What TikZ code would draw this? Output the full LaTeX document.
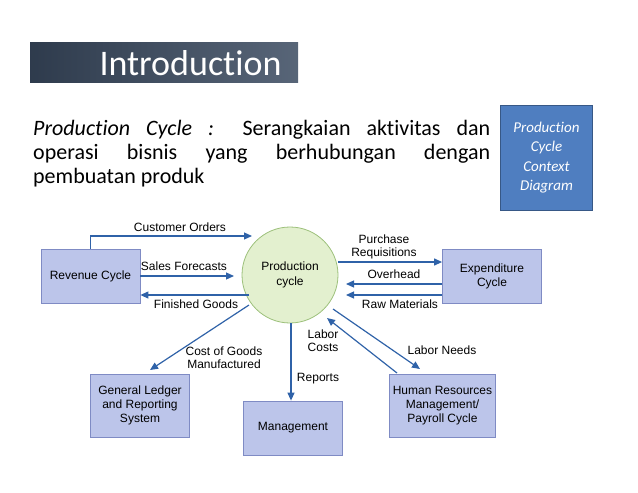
\documentclass[tikz,border=0pt]{standalone}
\usepackage{fontspec}
\setmainfont{Carlito}[Ligatures={NoCommon}]
\newfontfamily\dfont{Liberation Sans}
\usetikzlibrary{arrows.meta}
\definecolor{boxfill}{HTML}{BCC5EA}
\definecolor{boxline}{HTML}{7F8BC4}
\definecolor{arr}{HTML}{2F62A8}
\definecolor{circfill}{HTML}{E3F0CF}
\definecolor{circline}{HTML}{9CC07A}
\definecolor{titlebg}{HTML}{3A4A60}
\definecolor{bluebox}{HTML}{4F7EC0}
\tikzset{
 blk/.style={draw=boxline,fill=boxfill,line width=0.8pt,minimum width=99pt,minimum height=54pt,align=center,font=\dfont\fontsize{12}{14}\selectfont},
 lbl/.style={font=\dfont\fontsize{12}{13}\selectfont,align=center,inner sep=1pt},
 flow/.style={draw=arr,line width=1.2pt,-{Triangle[length=8pt,width=7pt]}}
}
\begin{document}
\begin{tikzpicture}[x=1pt,y=-1pt]
\useasboundingbox (0,0) rectangle (638,493);
\fill[left color=titlebg!80!black,right color=titlebg!85!white] (30,42) rectangle (298,82);
\node[text=white,font=\fontsize{36}{38}\selectfont,anchor=west] (title) at (96,63) {Introduction};
\node[anchor=north west,text width=457pt,align=justify,font=\fontsize{22}{24}\selectfont,inner sep=0pt] (para) at (33,120)
 {\textit{Production Cycle :} Serangkaian aktivitas dan\linebreak operasi bisnis yang berhubungan dengan\linebreak pembuatan produk};
\node[draw=bluebox!70!black,fill=bluebox,minimum width=91pt,minimum height=105pt,text width=85pt,align=center,text=white,font=\itshape\fontsize{15}{19.5}\selectfont] (ctx) at (546.5,157.5) {Production\\Cycle\\Context\\Diagram};
\node[blk] (rev) at (90.5,276) {Revenue Cycle};
\node[circle,draw=circline,fill=circfill,line width=0.8pt,minimum size=96pt,align=center,font=\dfont\fontsize{12}{15}\selectfont] (prod) at (290,275) {Production\\cycle};
\node[blk] (exp) at (492,276) {Expenditure\\Cycle};
\node[blk,minimum height=63pt] (gl) at (140,405.5) {General Ledger\\and Reporting\\System};
\node[blk] (mgmt) at (293,428) {Management};
\node[blk,minimum height=63pt] (hr) at (442.5,405.5) {Human Resources\\Management/\\Payroll Cycle};
\coordinate (co) at (252,236);
\draw[flow] (rev.north) |- (co);
\node[lbl] (l1) at (180,227) {Customer Orders};
\draw[flow] (rev.east |- 0,276) -- (234,276);
\node[lbl] (l2) at (184,266) {Sales Forecasts};
\draw[flow] (249,295) -- (rev.east |- 0,295);
\node[lbl] (l3) at (196,304) {Finished Goods};
\draw[flow] (338,262) -- (exp.west |- 0,262);
\node[lbl] (l4) at (384,247) {Purchase\\Requisitions};
\draw[flow] (exp.west |- 0,284) -- (346,284);
\node[lbl] (l5) at (394,274) {Overhead};
\draw[flow] (exp.west |- 0,295) -- (346,295);
\node[lbl] (l6) at (400,304) {Raw Materials};
\draw[flow] (249,305) -- (150,370);
\node[lbl] (l7) at (224,358) {Cost of Goods\\Manufactured};
\draw[flow] (291,323) -- (mgmt.north -| 291,0);
\node[lbl] (l8) at (318,379) {Reports};
\draw[flow] (397,373) -- (327,318);
\node[lbl] (l9) at (323,341) {Labor\\Costs};
\draw[flow] (333,309) -- (420,369);
\node[lbl] (l10) at (442,350) {Labor Needs};
\end{tikzpicture}
\end{document}
